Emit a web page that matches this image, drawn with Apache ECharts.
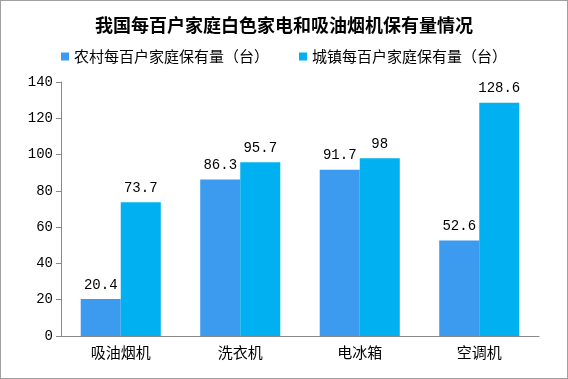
<!DOCTYPE html>
<html><head><meta charset="utf-8">
<script src="https://cdn.jsdelivr.net/npm/echarts@6/dist/echarts.min.js"></script>
<style>html,body{margin:0;padding:0;background:#fff}#c{width:568px;height:379px;box-sizing:border-box;border:1px solid #a0a0a0}</style>
</head><body><div id="c"></div>
<script>
const categories = ['吸油烟机', '洗衣机', '电冰箱', '空调机'];
const ruralValues = [20.4, 86.3, 91.7, 52.6];
const urbanValues = [73.7, 95.7, 98, 128.6];
const seriesNames = ['农村每百户家庭保有量（台）', '城镇每百户家庭保有量（台）'];
const yTicks = {min: 0, max: 140, interval: 20};

const chart = echarts.init(document.getElementById('c'), null, {renderer: 'canvas'});
const labelStyle = {show: true, position: 'top', color: '#000', fontSize: 14, fontFamily: 'Liberation Mono, monospace', distance: 7};
chart.setOption({
  animation: false,
  title: {text: '我国每百户家庭白色家电和吸油烟机保有量情况', left: 'center', top: 10,
    textStyle: {fontSize: 18, fontWeight: 'bold', color: '#000', fontFamily: 'Noto Sans CJK SC'}},
  legend: {top: 43, left: 'center', itemWidth: 8, itemHeight: 8, itemGap: 30, icon: 'rect',
    textStyle: {fontSize: 15, color: '#000', fontFamily: 'Noto Sans CJK SC'}},
  grid: {left: 60, right: 28, top: 81, bottom: 42},
  xAxis: {type: 'category', data: categories,
    axisLine: {lineStyle: {color: '#888'}}, axisTick: {lineStyle: {color: '#888'}},
    axisLabel: {color: '#000', fontSize: 15, fontFamily: 'Noto Sans CJK SC', margin: 9}},
  yAxis: {type: 'value', min: yTicks.min, max: yTicks.max, interval: yTicks.interval,
    axisLine: {show: true, lineStyle: {color: '#888'}}, axisTick: {show: true, lineStyle: {color: '#888'}},
    splitLine: {show: false},
    axisLabel: {color: '#000', fontSize: 14, fontFamily: 'Liberation Mono, monospace', margin: 8}},
  series: [
    {name: seriesNames[0], type: 'bar', data: ruralValues, barGap: '0%', barCategoryGap: '33%',
      itemStyle: {color: '#3D9BEF'}, label: labelStyle},
    {name: seriesNames[1], type: 'bar', data: urbanValues,
      itemStyle: {color: '#00B0F0'}, label: labelStyle}
  ]
});
</script></body></html>
